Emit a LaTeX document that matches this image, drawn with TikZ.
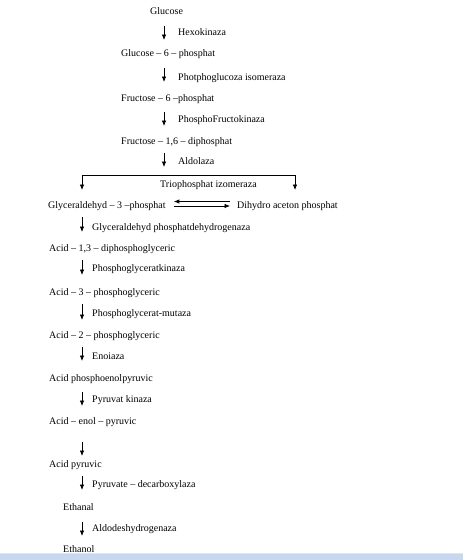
\documentclass[tikz,border=0pt]{standalone}
\usepackage{fontspec}
\setmainfont{Liberation Serif}
\usetikzlibrary{arrows.meta}
\definecolor{barblue}{RGB}{200,215,240}
\definecolor{barline}{RGB}{225,228,235}
\tikzset{
  txt/.style={anchor=west, inner sep=0pt, text height=7pt, text depth=2pt, font=\fontsize{10}{12}\selectfont},
  arr/.style={line width=0.75pt, -{Latex[length=5.5pt,width=4.5pt]}},
  plain/.style={line width=0.75pt}
}
\begin{document}
\begin{tikzpicture}[x=1pt,y=-1pt]
\useasboundingbox (0,0) rectangle (463,560);
\fill[white] (0,0) rectangle (463,560);
% bottom bar
\fill[barblue] (0,554) rectangle (463,560);
\draw[barline, line width=1pt] (0,553.5) -- (463,553.5);

% column guides
\coordinate (cx) at (164,0);
\coordinate (cy) at (82,0);

% top steps
\node[txt] (s0) at (150,12) {Glucose};
\node[txt] (s1) at (121,54) {Glucose – 6 – phosphat};
\node[txt] (s2) at (121,99) {Fructose – 6 –phosphat};
\node[txt] (s3) at (121,142) {Fructose – 1,6 – diphosphat};

\node[txt] (l1) at (178,33) {Hexokinaza};
\node[txt] (l2) at (178,78) {Photphoglucoza isomeraza};
\node[txt] (l3) at (178,120) {PhosphoFructokinaza};
\node[txt] (l4) at (178,162) {Aldolaza};

\draw[arr, shorten <=14pt, shorten >=14pt] (s0 -| cx) -- (s1 -| cx);
\draw[arr, shorten <=14pt, shorten >=17pt] (s1 -| cx) -- (s2 -| cx);
\draw[arr, shorten <=13pt, shorten >=16pt] (s2 -| cx) -- (s3 -| cx);

% bracket
\coordinate (bt) at (164,175);
\coordinate (bl) at (82,190);
\coordinate (br) at (295,190);
\draw[arr, shorten <=11pt, shorten >=8pt] (s3 -| cx) -- (bt);
\draw[arr] (bt) -| (bl);
\draw[arr] (bt) -| (br);
\node[txt] (tri) at (160,185) {Triophosphat izomeraza};

% split
\node[txt] (s4) at (48,206) {Glyceraldehyd – 3 –phosphat};
\node[txt] (dh) at (237,206) {Dihydro aceton phosphat};
\draw[arr, shorten <=7pt, shorten >=8pt] ([yshift=4.5pt]dh.west) -- ([yshift=4.5pt]s4.east);
\draw[arr, shorten <=8pt, shorten >=7pt] (s4.east) -- (dh.west);

% lower steps
\node[txt] (s5) at (49,249) {Acid – 1,3 – diphosphoglyceric};
\node[txt] (s6) at (49,293) {Acid – 3 – phosphoglyceric};
\node[txt] (s7) at (49,336) {Acid – 2 – phosphoglyceric};
\node[txt] (s8) at (49,379) {Acid phosphoenolpyruvic};
\node[txt] (s9) at (49,422) {Acid – enol – pyruvic};
\node[txt] (s10) at (49,465) {Acid pyruvic};
\node[txt] (s11) at (63,508) {Ethanal};
\node[txt] (s12) at (63,550) {Ethanol};

\node[txt] (l5) at (92,228) {Glyceraldehyd phosphatdehydrogenaza};
\node[txt] (l6) at (92,269) {Phosphoglyceratkinaza};
\node[txt] (l7) at (92,314) {Phosphoglycerat-mutaza};
\node[txt] (l8) at (92,357) {Enoiaza};
\node[txt] (l9) at (92,400) {Pyruvat kinaza};
\node[txt] (l11) at (92,485) {Pyruvate – decarboxylaza};
\node[txt] (l12) at (92,529) {Aldodeshydrogenaza};

\draw[arr, shorten <=11pt, shorten >=17pt] (s4 -| cy) -- (s5 -| cy);
\draw[arr, shorten <=11pt, shorten >=18pt] (s5 -| cy) -- (s6 -| cy);
\draw[arr, shorten <=11pt, shorten >=16pt] (s6 -| cy) -- (s7 -| cy);
\draw[arr, shorten <=11pt, shorten >=18pt] (s7 -| cy) -- (s8 -| cy);
\draw[arr, shorten <=13pt, shorten >=16pt] (s8 -| cy) -- (s9 -| cy);
\draw[arr, shorten <=20pt, shorten >=9pt] (s9 -| cy) -- (s10 -| cy);
\draw[arr, shorten <=11pt, shorten >=18pt] (s10 -| cy) -- (s11 -| cy);
\draw[arr, shorten <=14pt, shorten >=14pt] (s11 -| cy) -- (s12 -| cy);
\end{tikzpicture}
\end{document}
